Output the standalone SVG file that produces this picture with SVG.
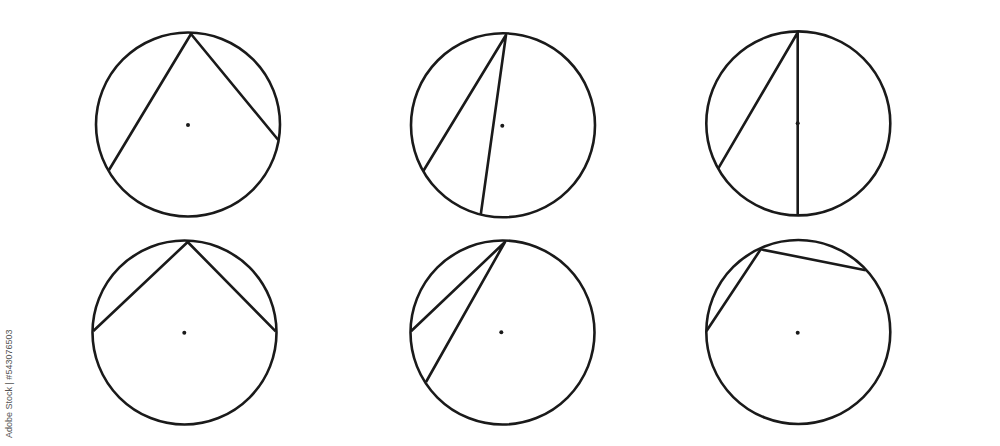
<svg xmlns="http://www.w3.org/2000/svg" width="1000" height="446" viewBox="0 0 1000 446">
<style>
.c{fill:none;stroke:#1a1a1a;stroke-width:2.6}
.l{fill:none;stroke:#1a1a1a;stroke-width:2.6;stroke-linejoin:round;stroke-linecap:butt}
.d{fill:#1a1a1a}
.id{font-family:"Liberation Sans",Arial,sans-serif;font-size:9px;fill:#555}
</style>
<rect width="1000" height="446" fill="#ffffff"/>
<g id="circle1">
<circle class="c" cx="188" cy="124.5" r="92"/>
<circle class="d" cx="188" cy="125" r="2"/>
</g>
<g id="circle2">
<circle class="c" cx="503" cy="125.3" r="92"/>
<circle class="d" cx="502.3" cy="125.7" r="2"/>
</g>
<g id="circle3">
<circle class="c" cx="798.3" cy="123.4" r="92"/>
<circle class="d" cx="797.7" cy="123.3" r="2"/>
</g>
<g id="circle4">
<circle class="c" cx="184.5" cy="332.5" r="92"/>
<circle class="d" cx="184.3" cy="332.7" r="2"/>
</g>
<g id="circle5">
<circle class="c" cx="502.5" cy="332.5" r="92"/>
<circle class="d" cx="501.3" cy="332.3" r="2"/>
</g>
<g id="circle6">
<circle class="c" cx="798.3" cy="332" r="92"/>
<circle class="d" cx="797.7" cy="332.7" r="2"/>
</g>
<g id="connectors">
<polyline class="l" points="109,170 191,34 278.3,140"/>
<polyline class="l" points="423.3,171 506,35 480.7,215"/>
<polyline class="l" points="718.3,168.3 797.7,32.5 797.7,215"/>
<polyline class="l" points="93.3,331 187.7,242 275.7,331.3"/>
<polyline class="l" points="411,331.3 505,242 426,382"/>
<polyline class="l" points="706.5,331 760.7,249.3 865.7,270.3"/>
</g>
<text class="id" transform="translate(12,438) rotate(-90)">Adobe Stock | #543076503</text>
</svg>
